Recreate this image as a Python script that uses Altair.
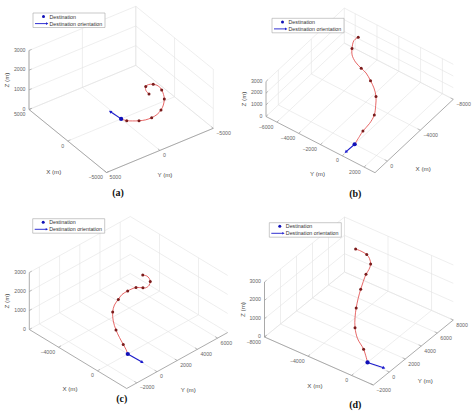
import math
import altair as alt
import pandas as pd

# ---------------------------------------------------------------------------
# Descent trajectories in metres, from the start point down to the destination
# (the destination is the origin in every case).  MARK lists the waypoints
# drawn as dots, ARROW the horizontal destination orientation vector.
# ---------------------------------------------------------------------------
A_X = [-3760, -3010, -2350, -2070, -1980, -2080, -2350, -2630, -2880, -3130,
       -3240, -3210, -2960, -2550, -1990, -1370, -760, 0]
A_Y = [120, -140, -600, -1060, -1570, -1990, -2090, -2060, -1950, -1680,
       -1380, -1030, -710, -430, -230, -70, 30, 0]
A_Z = [2500, 2370, 2270, 2170, 2040, 1890, 1750, 1620, 1500, 1330,
       1180, 1020, 850, 670, 490, 320, 160, 0]
A_MARK = [0, 2, 4, 6, 8, 10, 12, 14, 16]
A_ARROW = [1350, 130]

B_X = [-6160, -5840, -5300, -4910, -4660, -4590, -4570, -4330, -4070, -3660,
       -3120, -2500, -1820, -1150, -700, 0]
B_Y = [-4330, -4480, -4250, -3950, -3450, -2870, -2410, -1820, -1310, -810,
       -430, -90, -10, -110, -90, 0]
B_Z = [3000, 2870, 2660, 2500, 2300, 2090, 1920, 1700, 1500, 1280,
       1050, 810, 570, 320, 160, 0]
B_MARK = [0, 2, 5, 7, 9, 11, 13]
B_ARROW = [1120, -40]

C_X = [-1210, -1120, -950, -770, -670, -830, -1070, -1420, -1750, -2030,
       -2270, -2540, -2570, -2570, -2370, -1960, -1460, -1000, -570, -240, 0]
C_Y = [2650, 2950, 3040, 2970, 2750, 2550, 2530, 2530, 2500, 2370,
       2180, 1880, 1540, 1160, 790, 450, 240, 140, 100, 60, 0]
C_Z = [3000, 2890, 2790, 2700, 2590, 2470, 2410, 2310, 2220, 2100,
       1970, 1790, 1620, 1440, 1240, 1000, 740, 520, 300, 140, 0]
C_MARK = [0, 3, 6, 8, 10, 12, 14, 16, 18]
C_ARROW = [1530, 60]

D_X = [-4990, -4710, -4320, -4020, -3730, -3610, -3620, -3500, -3350, -3130,
       -2860, -2540, -2120, -1540, -780, 0]
D_Y = [5300, 5580, 5780, 5710, 5460, 5090, 4730, 4230, 3700, 3080,
       2470, 1890, 1320, 840, 570, 0]
D_Z = [3000, 2860, 2700, 2590, 2450, 2320, 2180, 2000, 1800, 1570,
       1340, 1110, 870, 600, 310, 0]
D_MARK = [0, 2, 4, 6, 8, 10, 12, 14]
D_ARROW = [1470, 180]

# Axis limits and ticks: "a" runs along the left-front floor edge,
# "b" along the front-right floor edge.
Z_LIM = 3000
Z_TICKS = [0, 1000, 2000, 3000]
LEGEND_TEXT = ["Destination", "Destination orientation"]

PANELS = {
    'a': dict(data=(A_X, A_Y, A_Z, A_MARK, A_ARROW),
              a=('X', 5000, -5000), b=('Y', 5000, -5000),
              at=[5000, 0, -5000], bt=[5000, 0, -5000],
              atitle='X (m)', btitle='Y (m)', name='(a)'),
    'b': dict(data=(B_X, B_Y, B_Z, B_MARK, B_ARROW),
              a=('Y', -7000, 3000), b=('X', 1500, -8000),
              at=[-6000, -4000, -2000, 0, 2000], bt=[0, -4000, -8000],
              atitle='Y (m)', btitle='X (m)', name='(b)'),
    'c': dict(data=(C_X, C_Y, C_Z, C_MARK, C_ARROW),
              a=('X', -7000, 3000), b=('Y', -3000, 7000),
              at=[-4000, 0], bt=[-2000, 0, 2000, 4000, 6000],
              atitle='X (m)', btitle='Y (m)', name='(c)'),
    'd': dict(data=(D_X, D_Y, D_Z, D_MARK, D_ARROW),
              a=('X', -8000, 2000), b=('Y', -2000, 8000),
              at=[-8000, -4000, 0], bt=[-2000, 0, 2000, 4000, 6000, 8000],
              atitle='X (m)', btitle='Y (m)', name='(d)'),
}

# Screen layout of each 3-D box (orthographic view): floor corners
# left / front / right, box height, title offsets, legend and caption spots.
VIEW = {
    'a': dict(L=(29, 109.5), F=(106.5, 172.5), R=(213.3, 128.3), H=59,
              ta=(-14, 31), tb=(5, 25), leg=(33, 13), cap=(118, 193)),
    'b': dict(L=(266, 116.5), F=(375, 172.7), R=(453.3, 99.3), H=35,
              ta=(-3, 29), tb=(9, 33), leg=(272, 18.3), cap=(355.3, 194)),
    'c': dict(L=(29.3, 329.5), F=(126.7, 388.5), R=(227.7, 332.5), H=57,
              ta=(-8, 30), tb=(11, 29), leg=(32.7, 218.7), cap=(121.7, 398.7)),
    'd': dict(L=(264.5, 337), F=(373.3, 385), R=(453.3, 320), H=55,
              ta=(-4, 25), tb=(12, 28.5), leg=(269.3, 222.7), cap=(355.3, 405.3)),
}
LEG_W, LEG_H = 72, 14.5


def proj_ab(k, av, bv, z):
    p, v = PANELS[k], VIEW[k]
    _, a0, a1 = p['a']
    _, b0, b1 = p['b']
    ta = (av - a0) / (a1 - a0)
    tb = (bv - b0) / (b1 - b0)
    L, F, R = v['L'], v['F'], v['R']
    sx = L[0] + ta * (F[0] - L[0]) + tb * (R[0] - F[0])
    sy = L[1] + ta * (F[1] - L[1]) + tb * (R[1] - F[1]) - z / Z_LIM * v['H']
    return sx, sy


def proj(k, X, Y, Z):
    if PANELS[k]['a'][0] == 'X':
        return proj_ab(k, X, Y, Z)
    return proj_ab(k, Y, X, Z)


def fmt(t):
    return str(t).replace('-', '\u2212')


grid, axes, ticks = [], [], []
lab_r, lab_l, titles, ztitles = [], [], [], []
path, marks, dest, arrows, heads = [], [], [], [], []
legbox, legdot, legline, leghead, legtext, caps = [], [], [], [], [], []


def seg(lst, k, A, B):
    x1, y1 = proj_ab(k, *A)
    x2, y2 = proj_ab(k, *B)
    lst.append(dict(x=x1, y=y1, x2=x2, y2=y2))


for k, p in PANELS.items():
    v = VIEW[k]
    _, a0, a1 = p['a']
    _, b0, b1 = p['b']
    # grid on the floor and the two back walls
    for t in p['at']:
        seg(grid, k, (t, b0, 0), (t, b1, 0))
        seg(grid, k, (t, b1, 0), (t, b1, Z_LIM))
    for t in p['bt']:
        seg(grid, k, (a0, t, 0), (a1, t, 0))
        seg(grid, k, (a0, t, 0), (a0, t, Z_LIM))
    for z in Z_TICKS:
        seg(grid, k, (a0, b0, z), (a0, b1, z))
        seg(grid, k, (a0, b1, z), (a1, b1, z))
    # axis lines
    seg(axes, k, (a0, b0, 0), (a1, b0, 0))
    seg(axes, k, (a1, b0, 0), (a1, b1, 0))
    seg(axes, k, (a0, b0, 0), (a0, b0, Z_LIM))
    # tick marks and labels
    for t in p['at']:
        seg(ticks, k, (t, b0, 0), (t, b0 + 0.025 * (b1 - b0), 0))
        x, y = proj_ab(k, t, b0, 0)
        lab_r.append(dict(x=x - 3.5, y=y + 2.5, t=fmt(t)))
    for t in p['bt']:
        seg(ticks, k, (a1, t, 0), (a1 - 0.025 * (a1 - a0), t, 0))
        x, y = proj_ab(k, a1, t, 0)
        lab_l.append(dict(x=x + 3, y=y + 2.5, t=fmt(t)))
    for z in Z_TICKS:
        seg(ticks, k, (a0, b0, z), (a0, b0 + 0.025 * (b1 - b0), z))
        x, y = proj_ab(k, a0, b0, z)
        lab_r.append(dict(x=x - 3.5, y=y - 3, t=fmt(z)))
    # axis titles
    x, y = proj_ab(k, (a0 + a1) / 2, b0, 0)
    titles.append(dict(x=x + v['ta'][0], y=y + v['ta'][1], t=p['atitle']))
    x, y = proj_ab(k, a1, (b0 + b1) / 2, 0)
    titles.append(dict(x=x + v['tb'][0], y=y + v['tb'][1], t=p['btitle']))
    ztitles.append(dict(x=v['L'][0] - 22, y=v['L'][1] - v['H'] / 2, t='Z (m)'))

    # trajectory, waypoints, destination and orientation arrow
    xs, ys, zs, mk, arr = p['data']
    for i, (X, Y, Z) in enumerate(zip(xs, ys, zs)):
        sx, sy = proj(k, X, Y, Z)
        path.append(dict(panel=k, i=i, x=sx, y=sy))
        if i in mk:
            marks.append(dict(x=sx, y=sy))
    dx0, dy0 = proj(k, 0, 0, 0)
    dest.append(dict(x=dx0, y=dy0))
    tx, ty = proj(k, arr[0], arr[1], 0)
    ux, uy = tx - dx0, ty - dy0
    n = math.hypot(ux, uy)
    arrows.append(dict(x=dx0, y=dy0, x2=tx - 1.5 * ux / n, y2=ty - 1.5 * uy / n))
    ang = math.degrees(math.atan2(ux, -uy)) % 360
    heads.append(dict(x=tx - 1.6 * ux / n, y=ty - 1.6 * uy / n, a=ang))

    # legend
    lx, ly = v['leg']
    legbox.append(dict(x=lx, y=ly, x2=lx + LEG_W, y2=ly + LEG_H))
    legdot.append(dict(x=lx + 10.5, y=ly + 3.6))
    legline.append(dict(x=lx + 2, y=ly + 10.6, x2=lx + 13.5, y2=ly + 10.6))
    leghead.append(dict(x=lx + 13.8, y=ly + 10.6, a=90))
    legtext.append(dict(x=lx + 16.5, y=ly + 3.6, t=LEGEND_TEXT[0]))
    legtext.append(dict(x=lx + 16.5, y=ly + 10.6, t=LEGEND_TEXT[1]))
    caps.append(dict(x=v['cap'][0], y=v['cap'][1], t=p['name']))


XS = alt.Scale(domain=[0, 474])
YS = alt.Scale(domain=[0, 413], reverse=True)
FONT = 'Liberation Sans'
BLUE = '#1a1acc'


def base(rows):
    return alt.Chart(pd.DataFrame(rows))


def pos():
    return dict(x=alt.X('x:Q', scale=XS, axis=None), y=alt.Y('y:Q', scale=YS, axis=None))


def rules(rows, **style):
    return base(rows).mark_rule(**style).encode(x2='x2:Q', y2='y2:Q', **pos())


def texts(rows, **style):
    return base(rows).mark_text(font=FONT, **style).encode(text='t:N', **pos())


def dots(rows, **style):
    return base(rows).mark_point(filled=True, opacity=1, **style).encode(**pos())


layers = [
    rules(grid, color='#e2e2e2', strokeWidth=0.6),
    rules(axes, color='#979797', strokeWidth=0.8),
    rules(ticks, color='#979797', strokeWidth=0.6),
    texts(lab_r, align='right', baseline='top', fontSize=5.2, color='#666666'),
    texts(lab_l, align='left', baseline='top', fontSize=5.2, color='#666666'),
    texts(titles, align='center', baseline='middle', fontSize=6.2, color='#4a4a4a'),
    texts(ztitles, align='center', baseline='middle', fontSize=6.2, color='#4a4a4a', angle=270),
    base(path).mark_line(interpolate='catmull-rom', color='#e04040', strokeWidth=0.8).encode(
        detail='panel:N', order='i:Q', **pos()),
    dots(marks, size=9, color='#7a1c1c'),
    rules(arrows, color=BLUE, strokeWidth=1.1),
    base(heads).mark_point(shape='triangle', filled=True, size=12, color=BLUE, opacity=1).encode(
        angle=alt.Angle('a:Q', scale=None), **pos()),
    dots(dest, size=18, color='#1010b8'),
    base(legbox).mark_rect(fill='white', stroke='#a6a6a6', strokeWidth=0.6).encode(
        x2='x2:Q', y2='y2:Q', **pos()),
    dots(legdot, size=9, color='#1010b8'),
    rules(legline, color=BLUE, strokeWidth=0.9),
    base(leghead).mark_point(shape='triangle', filled=True, size=7, color=BLUE, opacity=1).encode(
        angle=alt.Angle('a:Q', scale=None), **pos()),
    texts(legtext, align='left', baseline='middle', fontSize=5.3, color='#333333'),
    base(caps).mark_text(font='Liberation Serif', fontWeight='bold', fontSize=10,
                         align='center', baseline='middle', color='#111111').encode(
        text='t:N', **pos()),
]

chart = alt.layer(*layers).properties(
    width=474, height=413, padding=0, autosize='none', background='white'
).configure_view(stroke=None)

chart.save("out.html", embed_options={"renderer": "svg", "actions": False})
